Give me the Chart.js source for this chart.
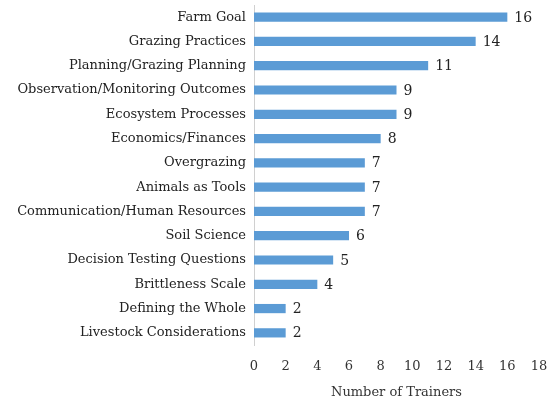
<!DOCTYPE html>
<html lang="en">
<head>
  <meta charset="UTF-8">
  <title>Number of Trainers</title>
  <script src="https://cdn.jsdelivr.net/npm/chart.js"></script>
  <style>
    body { margin: 0; padding: 0; background: #ffffff; }
    .wrap { width: 550px; height: 402px; }
  </style>
</head>
<body>
  <div class="wrap"><canvas id="topicChart" width="550" height="402"></canvas></div>
  <script>
    const topics = [
      'Farm Goal', 'Grazing Practices', 'Planning/Grazing Planning',
      'Observation/Monitoring Outcomes', 'Ecosystem Processes', 'Economics/Finances',
      'Overgrazing', 'Animals as Tools', 'Communication/Human Resources',
      'Soil Science', 'Decision Testing Questions', 'Brittleness Scale',
      'Defining the Whole', 'Livestock Considerations'
    ];
    const trainers = [16, 14, 11, 9, 9, 8, 7, 7, 7, 6, 5, 4, 2, 2];
    const xTicks = [0, 2, 4, 6, 8, 10, 12, 14, 16, 18];

    const serif = "'DejaVu Serif', 'Liberation Serif', serif";

    // draws the value next to each bar
    const valueLabels = {
      id: 'valueLabels',
      afterDatasetsDraw(chart) {
        const c = chart.ctx;
        const meta = chart.getDatasetMeta(0);
        c.save();
        c.font = '14px ' + serif;
        c.fillStyle = '#222';
        c.textBaseline = 'middle';
        meta.data.forEach((bar, i) => {
          c.fillText(trainers[i], bar.x + 7, bar.y + 1);
        });
        c.restore();
      }
    };

    new Chart(document.getElementById('topicChart'), {
      type: 'bar',
      data: {
        labels: topics,
        datasets: [{
          data: trainers,
          backgroundColor: '#5B9BD5',
          barPercentage: 0.38,
          categoryPercentage: 1
        }]
      },
      options: {
        indexAxis: 'y',
        responsive: false,
        animation: false,
        layout: { padding: { top: 5, right: 11, left: 0, bottom: 0 } },
        plugins: { legend: { display: false }, tooltip: { enabled: false } },
        scales: {
          x: {
            min: 0, max: 18,
            afterBuildTicks: s => { s.ticks = xTicks.map(v => ({ value: v })); },
            grid: { display: false, drawTicks: false },
            border: { display: false },
            ticks: { color: '#333', font: { family: serif, size: 13 }, padding: 14, maxRotation: 0 },
            title: { display: true, text: 'Number of Trainers', color: '#333', font: { family: serif, size: 13 }, padding: { top: 4, bottom: 2 } },
            afterFit: s => { s.height = 57; s.paddingLeft = 0; s.paddingRight = 0; }
          },
          y: {
            grid: { display: false, drawTicks: false },
            border: { display: true, color: '#d0d0d0', width: 1 },
            ticks: { color: '#222', font: { family: serif, size: 13 }, padding: 8 },
            afterFit: s => { s.width = 254; s.paddingTop = 0; s.paddingBottom = 0; }
          }
        }
      },
      plugins: [valueLabels]
    });
  </script>
</body>
</html>
